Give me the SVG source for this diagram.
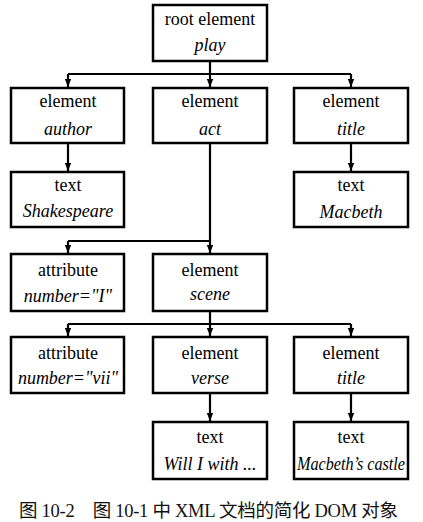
<svg xmlns="http://www.w3.org/2000/svg" width="423" height="522" viewBox="0 0 423 522">
<defs>
<style>
.box{fill:#fff;stroke:#000;stroke-width:2.5}
.t{font-family:"Liberation Serif",serif;font-size:18px;fill:#000;text-anchor:middle}
.i{font-style:italic}
.ln{fill:none;stroke:#000;stroke-width:2.2}
.cap{font-family:"Liberation Serif","Noto Sans CJK SC",sans-serif;font-size:18.5px;fill:#111}
</style>
<marker id="ah" markerWidth="8" markerHeight="8" viewBox="0 0 8 8" refX="8" refY="4" orient="auto" markerUnits="userSpaceOnUse">
<path d="M0,0.8 L8,4 L0,7.2 Z" fill="#000"/>
</marker>
</defs>
<rect width="423" height="522" fill="#fff"/>
<g id="connectors">
<path class="ln" d="M210,61 V74"/>
<path class="ln" d="M68,74 H351"/>
<path class="ln" d="M68,74 V87" marker-end="url(#ah)"/>
<path class="ln" d="M210,74 V87" marker-end="url(#ah)"/>
<path class="ln" d="M351,74 V87" marker-end="url(#ah)"/>
<path class="ln" d="M68,143 V171" marker-end="url(#ah)"/>
<path class="ln" d="M351,143 V171" marker-end="url(#ah)"/>
<path class="ln" d="M210,143 V241"/>
<path class="ln" d="M68,241 H210"/>
<path class="ln" d="M68,241 V253" marker-end="url(#ah)"/>
<path class="ln" d="M210,241 V253" marker-end="url(#ah)"/>
<path class="ln" d="M210,311 V324"/>
<path class="ln" d="M68,324 H351"/>
<path class="ln" d="M68,324 V336" marker-end="url(#ah)"/>
<path class="ln" d="M210,324 V336" marker-end="url(#ah)"/>
<path class="ln" d="M351,324 V336" marker-end="url(#ah)"/>
<path class="ln" d="M210,393 V421" marker-end="url(#ah)"/>
<path class="ln" d="M351,393 V421" marker-end="url(#ah)"/>
</g>
<g id="root"><rect class="box" x="153" y="5" width="114" height="56"/><text class="t" x="210" y="25">root element</text><text class="t i" x="210" y="51">play</text></g>
<g id="author"><rect class="box" x="11" y="88" width="113" height="55"/><text class="t" x="68" y="107">element</text><text class="t i" x="68" y="135">author</text></g>
<g id="act"><rect class="box" x="153" y="88" width="114" height="55"/><text class="t" x="210" y="107">element</text><text class="t i" x="210" y="135">act</text></g>
<g id="title"><rect class="box" x="294" y="88" width="114" height="55"/><text class="t" x="351" y="107">element</text><text class="t i" x="351" y="135">title</text></g>
<g id="shakespeare"><rect class="box" x="11" y="172" width="113" height="55"/><text class="t" x="68" y="191">text</text><text class="t i" x="68" y="217">Shakespeare</text></g>
<g id="macbeth"><rect class="box" x="294" y="172" width="114" height="55"/><text class="t" x="351" y="191">text</text><text class="t i" x="351" y="218">Macbeth</text></g>
<g id="attr1"><rect class="box" x="11" y="254" width="113" height="57"/><text class="t" x="68" y="276">attribute</text><text class="t i" x="68" y="302">number="I"</text></g>
<g id="scene"><rect class="box" x="153" y="254" width="114" height="57"/><text class="t" x="210" y="276">element</text><text class="t i" x="210" y="300">scene</text></g>
<g id="attr2"><rect class="box" x="11" y="337" width="113" height="56"/><text class="t" x="68" y="359">attribute</text><text class="t i" x="68" y="384">number="vii"</text></g>
<g id="verse"><rect class="box" x="153" y="337" width="114" height="56"/><text class="t" x="210" y="359">element</text><text class="t i" x="210" y="384">verse</text></g>
<g id="title2"><rect class="box" x="294" y="337" width="114" height="56"/><text class="t" x="351" y="359">element</text><text class="t i" x="351" y="384">title</text></g>
<g id="willi"><rect class="box" x="153" y="422" width="114" height="57"/><text class="t" x="210" y="443">text</text><text class="t i" x="210" y="470">Will I with ...</text></g>
<g id="castle"><rect class="box" x="294" y="422" width="114" height="57"/><text class="t" x="351" y="443">text</text><text class="t i" x="351" y="470" textLength="108" lengthAdjust="spacingAndGlyphs">Macbeth’s castle</text></g>
<text class="cap" x="19" y="517" textLength="379" lengthAdjust="spacing">图 10-2　图 10-1 中 XML 文档的简化 DOM 对象</text>
</svg>
